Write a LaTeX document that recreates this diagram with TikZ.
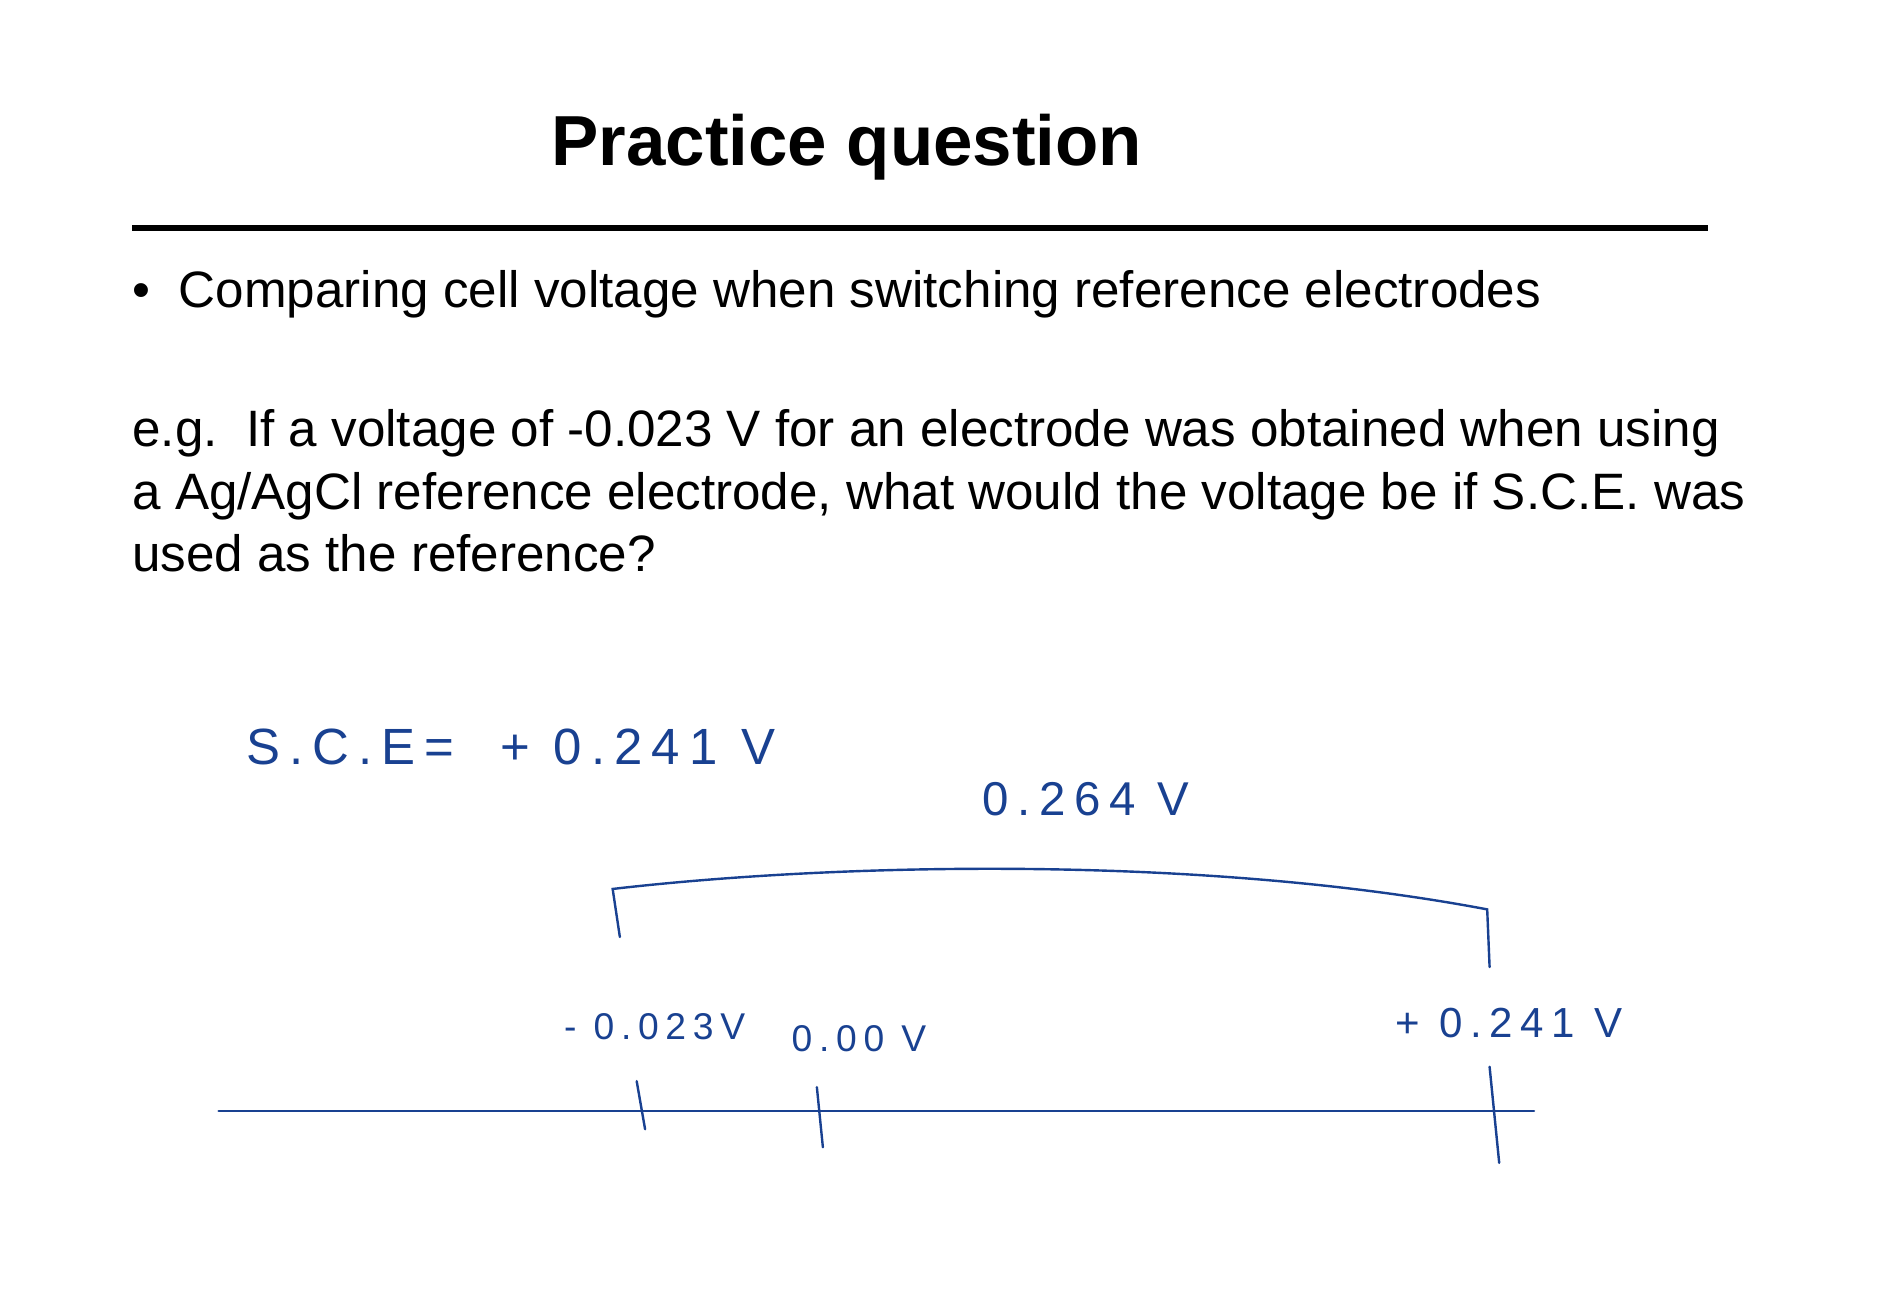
\documentclass[tikz,border=0pt]{standalone}
\usepackage{fontspec}
\setmainfont{Liberation Sans}
\definecolor{ink}{RGB}{25,65,145}
\begin{document}
\begin{tikzpicture}[x=1pt,y=-1pt,
  body/.style={anchor=base west,inner sep=0,font=\fontsize{42.6}{50}\selectfont},
  hand/.style={text=ink,inner sep=0},
  pen/.style={draw=ink,line width=2pt,line cap=round}]
\useasboundingbox[fill=white] (0,0) rectangle (1570,1074);
\node[inner sep=0,anchor=base,font=\bfseries\fontsize{59}{66}\selectfont] (title) at (705,138) {Practice question};
\coordinate (r1) at (110,190); \coordinate (r2) at (1422,190);
\draw[line width=5pt] (r1) -- (r2);
\node[body] (b) at (110,256) {\textbullet\ \ Comparing cell voltage when switching reference electrodes};
\node[body] (l1) at (110,372) {e.g.\ \ If a voltage of -0.023 V for an electrode was obtained when using};
\node[body] (l2) at (110,424) {a Ag/AgCl reference electrode, what would the voltage be if S.C.E. was};
\node[body] (l3) at (110,476) {used as the reference?};
\node[hand,font=\fontsize{42.4}{48}\selectfont\addfontfeature{LetterSpace=18}] (sce) at (425,622) {S.C.E\,=\ \ + 0.241 V};
\node[hand,font=\fontsize{39.5}{46}\selectfont\addfontfeature{LetterSpace=18}] (d) at (904,665) {0.264 V};
\coordinate (a0) at (516,780); \coordinate (a1) at (510,740);
\coordinate (a2) at (1238,757); \coordinate (a3) at (1240,805);
\draw[pen] (a0) -- (a1) .. controls (700,718) and (1000,712) .. (a2) -- (a3);
\coordinate (n0) at (182,925); \coordinate (n1) at (1277,925);
\draw[pen] (n0) -- (n1);
\coordinate (t1a) at (530,900); \coordinate (t1b) at (537,940);
\coordinate (t2a) at (680,905); \coordinate (t2b) at (685,955);
\coordinate (t3a) at (1240,888); \coordinate (t3b) at (1248,968);
\draw[pen] (t1a) -- (t1b); \draw[pen] (t2a) -- (t2b); \draw[pen] (t3a) -- (t3b);
\node[hand,font=\fontsize{31}{36}\selectfont\addfontfeature{LetterSpace=18}] (m1) at (545,855) {- 0.023V};
\node[hand,font=\fontsize{31}{36}\selectfont\addfontfeature{LetterSpace=18}] (m2) at (715,865) {0.00 V};
\node[hand,font=\fontsize{35}{38}\selectfont\addfontfeature{LetterSpace=18}] (m3) at (1256,852) {+ 0.241 V};
\end{tikzpicture}
\end{document}
